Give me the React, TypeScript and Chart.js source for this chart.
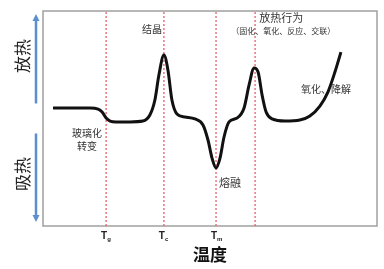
import React, { useEffect, useRef } from "react";
import { Chart, registerables } from "chart.js";

Chart.register(...registerables);

// DSC curve (arbitrary temperature units 0..100, heat flow units 0..100)
const curveX = [3.0, 8.1, 14.1, 16.5, 17.7, 18.9, 20.1, 21.9, 26.0, 29.9, 32.0, 33.5, 34.7, 36.2, 37.4, 38.6, 40.1, 42.5, 45.5, 47.9, 49.4, 50.6, 51.8, 53.0, 54.2, 55.7, 58.1, 60.2, 61.7, 63.2, 64.4, 65.6, 66.8, 68.6, 72.5, 76.9, 79.9, 82.9, 85.3, 87.4, 89.2];
const curveY = [54.9, 54.9, 54.9, 54.4, 53.0, 50.2, 48.8, 48.4, 48.4, 48.8, 51.6, 58.6, 70.2, 79.5, 72.6, 58.6, 52.1, 50.7, 49.8, 47.0, 40.0, 31.6, 27.0, 31.6, 41.4, 48.4, 50.2, 54.9, 65.6, 73.5, 71.6, 60.9, 53.0, 49.8, 48.8, 49.3, 51.2, 55.8, 62.3, 71.6, 80.9];

// Characteristic temperatures (vertical dashed lines)
const markerTemps = [18.9, 36.2, 51.8, 63.5];
const markerSubs = ["g", "c", "m", ""];

const CJK = '"Noto Sans CJK SC", "Noto Sans", sans-serif';

const annotations = [
  { text: "玻璃化", x: 13.2, y: 43.3, size: 10 },
  { text: "转变", x: 13.2, y: 37.2, size: 10 },
  { text: "结晶", x: 32.6, y: 91.6, size: 10 },
  { text: "放热行为", x: 71.3, y: 96.7, size: 11 },
  { text: "（固化、氧化、反应、交联）", x: 71.9, y: 90.7, size: 8 },
  { text: "氧化、降解", x: 84.7, y: 63.7, size: 10 },
  { text: "熔融", x: 56.0, y: 20.0, size: 11 },
];

const decorPlugin = {
  id: "decor",
  beforeDatasetsDraw(chart: any) {
    const { ctx, chartArea } = chart;
    ctx.save();
    ctx.strokeStyle = "#a0a0a0";
    ctx.lineWidth = 1.5;
    ctx.strokeRect(chartArea.left, chartArea.top, chartArea.right - chartArea.left, chartArea.bottom - chartArea.top);
    ctx.restore();
  },
  afterDraw(chart: any) {
    const { ctx, chartArea, scales } = chart;
    const xs = scales.x;
    const ys = scales.y;
    ctx.save();
    // annotations
    ctx.fillStyle = "#333";
    ctx.textAlign = "center";
    ctx.textBaseline = "middle";
    for (const a of annotations) {
      ctx.font = `${a.size}px ${CJK}`;
      ctx.fillText(a.text, xs.getPixelForValue(a.x), ys.getPixelForValue(a.y));
    }
    // tick labels T_g, T_c, T_m
    ctx.fillStyle = "#222";
    markerTemps.forEach((t, i) => {
      if (!markerSubs[i]) return;
      const px = xs.getPixelForValue(t);
      ctx.font = "bold 10px 'Liberation Sans', sans-serif";
      ctx.textAlign = "right";
      ctx.fillText("T", px + 1, chartArea.bottom + 10);
      ctx.font = "bold 6px 'Liberation Sans', sans-serif";
      ctx.textAlign = "left";
      ctx.fillText(markerSubs[i], px + 1, chartArea.bottom + 13);
    });
    // axis title
    ctx.fillStyle = "#111";
    ctx.font = `bold 17px ${CJK}`;
    ctx.textAlign = "center";
    ctx.fillText("温度", 210, chartArea.bottom + 29);
    // side arrows
    const ax = chartArea.left - 7;
    ctx.strokeStyle = "#5b8fd0";
    ctx.fillStyle = "#5b8fd0";
    ctx.lineWidth = 2.5;
    const topA = chartArea.top + 3;
    const midA = ys.getPixelForValue(57);
    const midB = ys.getPixelForValue(43);
    const botB = chartArea.bottom - 4;
    ctx.beginPath();
    ctx.moveTo(ax, topA + 5);
    ctx.lineTo(ax, midA);
    ctx.moveTo(ax, midB);
    ctx.lineTo(ax, botB - 5);
    ctx.stroke();
    ctx.beginPath();
    ctx.moveTo(ax, topA);
    ctx.lineTo(ax - 3.5, topA + 7);
    ctx.lineTo(ax + 3.5, topA + 7);
    ctx.closePath();
    ctx.fill();
    ctx.beginPath();
    ctx.moveTo(ax, botB);
    ctx.lineTo(ax - 3.5, botB - 7);
    ctx.lineTo(ax + 3.5, botB - 7);
    ctx.closePath();
    ctx.fill();
    // side labels (rotated)
    ctx.fillStyle = "#222";
    ctx.font = `17px ${CJK}`;
    ctx.textAlign = "center";
    ctx.textBaseline = "middle";
    const drawRot = (t: string, x: number, y: number) => {
      ctx.save();
      ctx.translate(x, y);
      ctx.rotate(-Math.PI / 2);
      ctx.fillText(t, 0, 0);
      ctx.restore();
    };
    drawRot("放热", 23, 56);
    drawRot("吸热", 23, 174);
    ctx.restore();
  },
};

export default function App() {
  const ref = useRef<HTMLCanvasElement>(null);
  useEffect(() => {
    if (!ref.current) return;
    const curve = curveX.map((x, i) => ({ x, y: curveY[i] }));
    const lines = markerTemps.map((t) => ({
      data: [
        { x: t, y: 0 },
        { x: t, y: 100 },
      ],
      borderColor: "#e8606a",
      borderWidth: 1.3,
      borderDash: [2, 2],
      pointRadius: 0,
      fill: false,
      tension: 0,
    }));
    const chart = new Chart(ref.current, {
      type: "line",
      data: {
        datasets: [
          {
            data: curve,
            borderColor: "#111",
            borderWidth: 3,
            pointRadius: 0,
            fill: false,
            tension: 0.4,
            cubicInterpolationMode: "monotone",
          } as any,
          ...lines,
        ],
      },
      options: {
        animation: false,
        responsive: false,
        maintainAspectRatio: false,
        layout: { padding: { left: 43, right: 7, top: 11, bottom: 43 } },
        plugins: { legend: { display: false }, tooltip: { enabled: false } },
        scales: {
          x: { type: "linear", min: 0, max: 100, display: false },
          y: { type: "linear", min: 0, max: 100, display: false },
        },
      },
      plugins: [decorPlugin],
    });
    return () => chart.destroy();
  }, []);
  return (
    <div style={{ position: "fixed", left: 0, top: 0, width: 384, height: 269, background: "#fff" }}>
      <canvas ref={ref} width={384} height={269} />
    </div>
  );
}
